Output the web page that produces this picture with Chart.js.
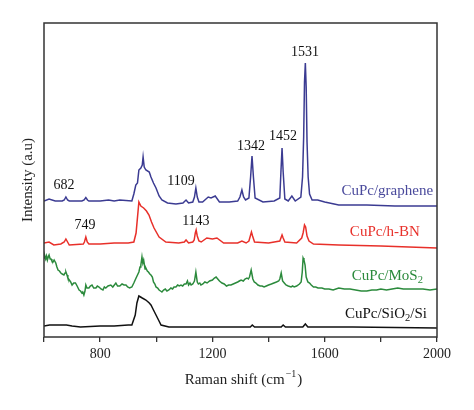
<!DOCTYPE html>
<html>
<head>
<meta charset="utf-8">
<script src="https://cdn.jsdelivr.net/npm/chart.js@4"></script>
<style>
  body { margin: 0; background: #fff; }
  #wrap { width: 474px; height: 410px; }
</style>
</head>
<body>
<div id="wrap"><canvas id="ramanChart" width="474" height="410"></canvas></div>
<script>
// Raman spectra, intensities in arbitrary units (traces offset vertically)
const grapheneShift = [600,618,640,665,672,678,684,690,735,743,749,755,760,800,830,850,870,913,920,927,933,938,945,950,953,957,963,975,981,990,999,1010,1020,1040,1070,1095,1106,1115,1130,1136,1141,1146,1152,1165,1185,1195,1210,1225,1260,1290,1298,1305,1311,1318,1330,1336,1341,1346,1352,1380,1420,1440,1444,1448,1452,1458,1470,1483,1495,1515,1521,1525,1528,1531,1534,1537,1541,1546,1555,1575,1600,1650,1750,1850,2000];
const grapheneInt = [136,138,136,136,137,140,137,136,136,137,139.5,137,136,136,137,136,137,136,143,152,154,167,169,172,180,170,167,165,160,154,149,141,137,134,133,134,137,134,135,140,149,140,135,135,140,139,141,135,135,136,140,147,140,137,139,160,181,160,139,135,136,139,165,189,165,138,136,141,136,140,160,200,255,274,250,195,160,143,137,137,135,132,132,131,131];

const hbnShift = [600,618,635,660,672,678,684,690,740,744,749,754,760,800,850,900,920,928,938,945,955,965,974,983,992,1010,1034,1080,1100,1106,1115,1130,1135,1139,1142,1146,1152,1160,1180,1200,1216,1240,1290,1305,1320,1330,1335,1339,1343,1350,1400,1440,1444,1448,1452,1458,1500,1518,1523,1528,1532,1537,1544,1560,1650,1800,2000];
const hbnInt = [94,95,92,93,95,98,95,92,93,95,100,95,93,93,94,94,95,104,135,131,129,126,122,115,109,100,95,94,95,97,94,95,97,104,107,101,96,95,99,98,99,94,94,96,94,96,101,105,101,95,94,96,99,102,99,95,94,99,104,112,110,101,96,93,92,91,89];

const mos2Shift = [600,603,606,609,612,615,618,622,625,628,632,636,642,646,650,655,660,665,671,675,678,682,685,690,695,700,706,712,718,725,730,735,738,742,746,749,753,760,765,771,777,785,790,796,803,810,815,820,828,838,845,856,862,870,878,885,892,898,905,913,920,928,933,938,942,945,949,952,955,960,963,968,972,977,981,986,990,995,999,1005,1010,1015,1020,1026,1032,1038,1045,1052,1058,1063,1070,1076,1082,1088,1094,1100,1106,1111,1115,1120,1124,1130,1136,1141,1146,1150,1155,1159,1166,1173,1181,1190,1200,1207,1213,1219,1225,1234,1242,1250,1258,1266,1274,1282,1290,1296,1302,1310,1316,1323,1328,1332,1338,1344,1349,1355,1362,1370,1377,1384,1392,1400,1410,1419,1428,1436,1440,1445,1450,1456,1462,1470,1480,1486,1491,1500,1510,1516,1520,1523,1526,1530,1534,1540,1546,1552,1560,1568,1576,1590,1600,1615,1630,1650,1670,1690,1710,1730,1750,1768,1785,1800,1820,1840,1860,1880,1900,1920,1950,1975,2000];
const mos2Int = [79,81,78,81,77,80,82,78,78,76,75,77,74,70,67,66,64,63,62,64,65,62,59,57,55,52,54,54,51,47,46,44,45,42,46,52,49,49,51,52,49,49,51,50,48,47,50,49,51,52,50,54,51,51,53,52,52,50,49,50,54,59,62,65,70,72,80,74,77,68,69,66,65,63,62,60,55,53,50,49,47,46,45,47,48,46,47,49,48,50,50,52,51,52,51,53,53,56,52,54,52,53,56,65,55,53,54,52,53,55,54,56,57,59,60,58,56,54,53,51,52,52,53,54,55,56,57,56,58,59,58,60,67,58,55,54,52,51,51,50,51,52,53,54,55,56,58,64,56,54,52,51,50,51,50,51,53,55,65,79,77,72,60,55,54,52,50,50,49,49,48,48,47,49,48,48,47,46,46,47,47,48,47,48,49,48,48,48,48,47,48];

const sio2Shift = [600,620,650,680,700,730,800,850,900,913,925,931,938,950,963,975,981,990,999,1008,1017,1045,1100,1200,1335,1342,1350,1400,1445,1452,1460,1500,1522,1531,1540,1560,1700,2000];
const sio2Int = [11,12,12,12,11,10,11,11,12,12,22,34,41,39,37,34,32,27,22,17,12,10,10,10,10,12,10,10,10,12,10,10,10,13,10,10,10,9];

const seriesNames = ['CuPc/graphene', 'CuPc/h-BN', 'CuPc/MoS2', 'CuPc/SiO2/Si'];
const xTicks = [800, 1200, 1600, 2000];

// peak labels, anchored in data coordinates
const peakLabels = [
  { text: '682', x: 671, y: 152 },
  { text: '749', x: 746, y: 112 },
  { text: '1109', x: 1088, y: 156 },
  { text: '1143', x: 1141, y: 116 },
  { text: '1342', x: 1337, y: 191 },
  { text: '1452', x: 1451, y: 201 },
  { text: '1531', x: 1530, y: 285 }
];

const BLUE = '#3b3b92', RED = '#e8302a', GREEN = '#2b8a3c', BLACK = '#111111';
const serif = "'Liberation Serif', 'DejaVu Serif', serif";

function pts(xs, ys) { return xs.map((x, i) => ({ x: x, y: ys[i] })); }

function lineSet(label, xs, ys, color) {
  return {
    label: label,
    data: pts(xs, ys),
    borderColor: color,
    backgroundColor: color,
    borderWidth: 1.5,
    pointRadius: 0,
    tension: 0,
    showLine: true
  };
}

// series name labels, subscripts marked true
const seriesLabels = [
  { parts: [['CuPc/graphene', false]], x: 1986, y: 146, color: '#4a4a9c' },
  { parts: [['CuPc/h-BN', false]], x: 1939, y: 105, color: RED },
  { parts: [['CuPc/MoS', false], ['2', true]], x: 1950, y: 61, color: GREEN },
  { parts: [['CuPc/SiO', false], ['2', true], ['/Si', false]], x: 1964, y: 23, color: BLACK }
];

function drawParts(ctx, parts, xRight, yMid, size) {
  let widths = parts.map(p => {
    ctx.font = (p[1] ? size * 0.7 : size) + 'px ' + serif;
    return ctx.measureText(p[0]).width;
  });
  let total = widths.reduce((a, b) => a + b, 0);
  let x = xRight - total;
  parts.forEach((p, i) => {
    ctx.font = (p[1] ? size * 0.7 : size) + 'px ' + serif;
    ctx.fillText(p[0], x, p[1] ? yMid + size * 0.3 : yMid);
    x += widths[i];
  });
}

const decorations = {
  id: 'decorations',
  afterDatasetsDraw(chart) {
    const ctx = chart.ctx;
    const xs = chart.scales.x, ys = chart.scales.y;
    const a = chart.chartArea;
    ctx.save();
    // frame
    ctx.strokeStyle = '#333';
    ctx.lineWidth = 1.5;
    ctx.strokeRect(a.left, a.top, a.right - a.left, a.bottom - a.top);

    ctx.textBaseline = 'middle';
    ctx.textAlign = 'center';
    ctx.fillStyle = '#111';
    ctx.font = '14px ' + serif;
    peakLabels.forEach(p => {
      ctx.fillText(p.text, xs.getPixelForValue(p.x), ys.getPixelForValue(p.y));
    });

    ctx.textAlign = 'left';
    seriesLabels.forEach(s => {
      ctx.fillStyle = s.color;
      drawParts(ctx, s.parts, xs.getPixelForValue(s.x), ys.getPixelForValue(s.y), 15);
    });

    // x axis title with superscript
    ctx.fillStyle = '#222';
    const cx = (a.left + a.right) / 2 + 2, cy = 380;
    ctx.font = '15px ' + serif;
    const t1 = 'Raman shift (cm', t3 = ')';
    const w1 = ctx.measureText(t1).width, w3 = ctx.measureText(t3).width;
    ctx.font = '10px ' + serif;
    const w2 = ctx.measureText('\u22121').width;
    let x0 = cx - (w1 + w2 + w3) / 2;
    ctx.font = '15px ' + serif;
    ctx.fillText(t1, x0, cy);
    ctx.font = '10px ' + serif;
    ctx.fillText('\u22121', x0 + w1 + 1, cy - 6);
    ctx.font = '15px ' + serif;
    ctx.fillText(t3, x0 + w1 + w2 + 2, cy);
    ctx.restore();
  }
};

new Chart(document.getElementById('ramanChart').getContext('2d'), {
  type: 'scatter',
  data: {
    datasets: [
      lineSet(seriesNames[0], grapheneShift, grapheneInt, BLUE),
      lineSet(seriesNames[1], hbnShift, hbnInt, RED),
      lineSet(seriesNames[2], mos2Shift, mos2Int, GREEN),
      lineSet(seriesNames[3], sio2Shift, sio2Int, BLACK)
    ]
  },
  options: {
    responsive: false,
    animation: false,
    layout: { padding: { top: 23, right: 37, left: 0, bottom: 0 } },
    plugins: { legend: { display: false }, tooltip: { enabled: false } },
    scales: {
      x: {
        type: 'linear',
        min: 600,
        max: 2000,
        afterFit: s => { s.height = 73; },
        afterBuildTicks: s => {
          s.ticks = [600, 800, 1000, 1200, 1400, 1600, 1800, 2000].map(v => ({ value: v }));
        },
        ticks: {
          autoSkip: false,
          maxRotation: 0,
          padding: 4,
          color: '#222',
          font: { family: serif, size: 14 },
          callback: v => xTicks.includes(v) ? String(v) : ''
        },
        grid: { drawOnChartArea: false, drawTicks: true, tickLength: 5, color: '#333', lineWidth: 1.3 },
        border: { display: false }
      },
      y: {
        min: 0,
        max: 314,
        afterFit: s => { s.width = 44; },
        ticks: { display: false },
        grid: { display: false },
        border: { display: false },
        title: {
          display: true,
          text: 'Intensity (a.u)',
          color: '#222',
          font: { family: serif, size: 15 },
          padding: { top: 19, bottom: 0 }
        }
      }
    }
  },
  plugins: [decorations]
});
</script>
</body>
</html>
